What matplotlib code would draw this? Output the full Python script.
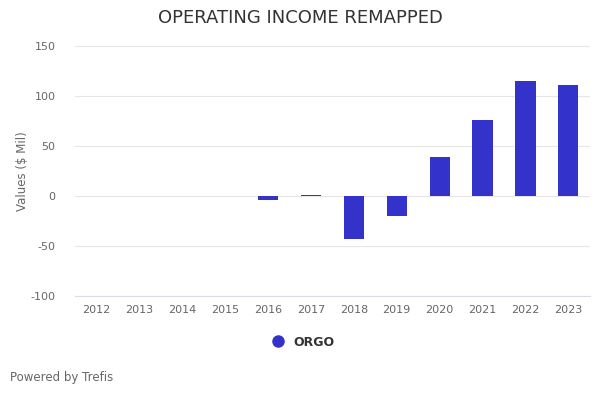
import numpy as np
import matplotlib.pyplot as plt
from matplotlib.lines import Line2D

# data
years = ["2012", "2013", "2014", "2015", "2016", "2017",
         "2018", "2019", "2020", "2021", "2022", "2023"]
orgo = [np.nan, np.nan, np.nan, np.nan, -4, 1, -43, -20, 39, 76, 115, 111]
y_ticks = [-100, -50, 0, 50, 100, 150]

BAR_COLOR = "#3333cc"
TEXT_GREY = "#666666"

fig = plt.figure(figsize=(6, 4), dpi=100)
ax = fig.add_axes([0.125, 0.261, 0.858, 0.623])

x = np.arange(len(years))
ax.bar(x, orgo, width=0.47, color=BAR_COLOR, zorder=3)

ax.set_xlim(-0.5, len(years) - 0.5)
ax.set_ylim(-100, 150)
ax.set_yticks(y_ticks)
ax.set_yticklabels([str(v) for v in y_ticks])
ax.set_xticks(x)
ax.set_xticklabels(years)
ax.grid(axis="y", color="#e6e6e6", linewidth=0.8, zorder=0)
ax.tick_params(axis="both", length=0, labelsize=8, colors=TEXT_GREY)
ax.tick_params(axis="y", pad=14)
ax.tick_params(axis="x", pad=7)
for side in ["top", "right", "left"]:
    ax.spines[side].set_visible(False)
ax.spines["bottom"].set_color("#d8dce6")
ax.spines["bottom"].set_linewidth(0.8)

ax.set_ylabel("Values ($ Mil)", fontsize=8.5, color=TEXT_GREY, labelpad=1)

fig.text(0.5, 0.955, "OPERATING INCOME REMAPPED", ha="center", va="center",
         fontsize=13, color="#333333")

handle = Line2D([0], [0], marker="o", linestyle="none", markersize=8,
                markerfacecolor=BAR_COLOR, markeredgecolor=BAR_COLOR)
fig.legend([handle], ["ORGO"], loc="center", bbox_to_anchor=(0.5, 0.145),
           frameon=False, handletextpad=0.2,
           prop={"weight": "bold", "size": 9}, labelcolor="#333333")

fig.text(0.017, 0.055, "Powered by Trefis", fontsize=8.5, color=TEXT_GREY,
         ha="left", va="center")

fig.savefig("out.png", dpi=100)
